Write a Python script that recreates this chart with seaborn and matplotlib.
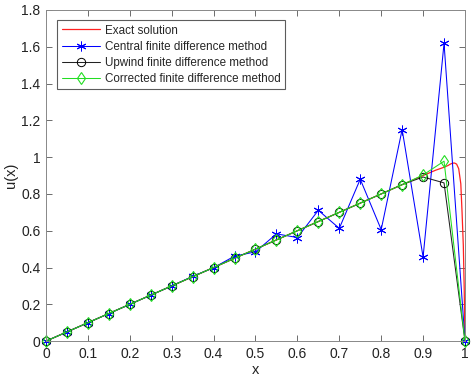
import numpy as np
import pandas as pd
import seaborn as sns
import matplotlib
matplotlib.use("Agg")
import matplotlib.pyplot as plt

sns.set_style("white")
plt.rcParams['font.family'] = ['Liberation Sans', 'DejaVu Sans']

x_grid = [0.0, 0.05, 0.1, 0.15, 0.2, 0.25, 0.3, 0.35, 0.4, 0.45, 0.5,
          0.55, 0.6, 0.65, 0.7, 0.75, 0.8, 0.85, 0.9, 0.95, 1.0]
central = [0.0, 0.05, 0.1, 0.15, 0.2, 0.25, 0.3, 0.352, 0.399, 0.462, 0.485,
           0.583, 0.563, 0.711, 0.613, 0.880, 0.606, 1.150, 0.457, 1.619, 0.0]
upwind = [0.0, 0.05, 0.1, 0.15, 0.2, 0.25, 0.3, 0.35, 0.4, 0.45, 0.5,
          0.55, 0.6, 0.65, 0.7, 0.75, 0.8, 0.851, 0.892, 0.860, 0.0]
corrected = [0.0, 0.05, 0.1, 0.15, 0.2, 0.25, 0.3, 0.35, 0.4, 0.45, 0.5,
             0.55, 0.6, 0.65, 0.7, 0.75, 0.8, 0.85, 0.903, 0.978, 0.0]
x_exact = [0.0, 0.5, 0.9, 0.93, 0.95, 0.96, 0.965, 0.97, 0.975, 0.98, 0.985,
           0.99, 0.993, 0.996, 0.998, 1.0]
exact = [0.0, 0.5, 0.9, 0.929, 0.945, 0.955, 0.962, 0.967, 0.968, 0.962, 0.937,
         0.855, 0.70, 0.52, 0.30, 0.0]

fig = plt.figure(figsize=(4.74, 3.82), dpi=100)
ax = fig.add_axes([0.097, 0.107, 0.884, 0.867])

lw = 0.75
sns.lineplot(x=x_exact, y=exact, ax=ax, color='#ff2020', lw=0.9, label='Exact solution',
             sort=False, clip_on=False)
sns.lineplot(x=x_grid, y=central, ax=ax, color='blue', lw=lw, marker=(6, 2, 0), markersize=7,
             markeredgecolor='blue', markerfacecolor='none', markeredgewidth=0.7,
             label='Central finite difference method', sort=False, clip_on=False)
sns.lineplot(x=x_grid, y=upwind, ax=ax, color='#222222', lw=lw, marker='o', markersize=6,
             markeredgecolor='black', markerfacecolor='none', markeredgewidth=0.7,
             label='Upwind finite difference method', sort=False, clip_on=False)
sns.lineplot(x=x_grid, y=corrected, ax=ax, color='#22dd22', lw=lw, marker='d', markersize=6.5,
             markeredgecolor='#22dd22', markerfacecolor='none', markeredgewidth=0.8,
             label='Corrected finite difference method', sort=False, clip_on=False)

ax.set_xlim(0, 1)
ax.set_ylim(0, 1.8)
ax.set_xticks(np.arange(0, 1.01, 0.1))
ax.set_xticklabels(['0', '0.1', '0.2', '0.3', '0.4', '0.5', '0.6', '0.7', '0.8', '0.9', '1'])
ax.set_yticks(np.arange(0, 1.81, 0.2))
ax.set_yticklabels(['0', '0.2', '0.4', '0.6', '0.8', '1', '1.2', '1.4', '1.6', '1.8'])
ax.tick_params(direction='in', length=4, width=0.6, color='#555555', labelsize=10,
               top=True, right=True, bottom=True, left=True, labelcolor='#222222', pad=4)
for s in ax.spines.values():
    s.set_color('#888888')
    s.set_linewidth(0.7)
ax.set_xlabel('x', fontsize=10.5, color='#222222', labelpad=2)
ax.set_ylabel('u(x)', fontsize=10.5, color='#222222', labelpad=2)

leg = ax.legend(loc='upper left', bbox_to_anchor=(0.026, 0.97), borderaxespad=0,
                fontsize=8.4, frameon=True, fancybox=False, edgecolor='#333333',
                handlelength=3.3, handletextpad=0.4, borderpad=0.4, labelspacing=0.35)
leg.get_frame().set_linewidth(0.8)

fig.savefig('out.png', dpi=100)
